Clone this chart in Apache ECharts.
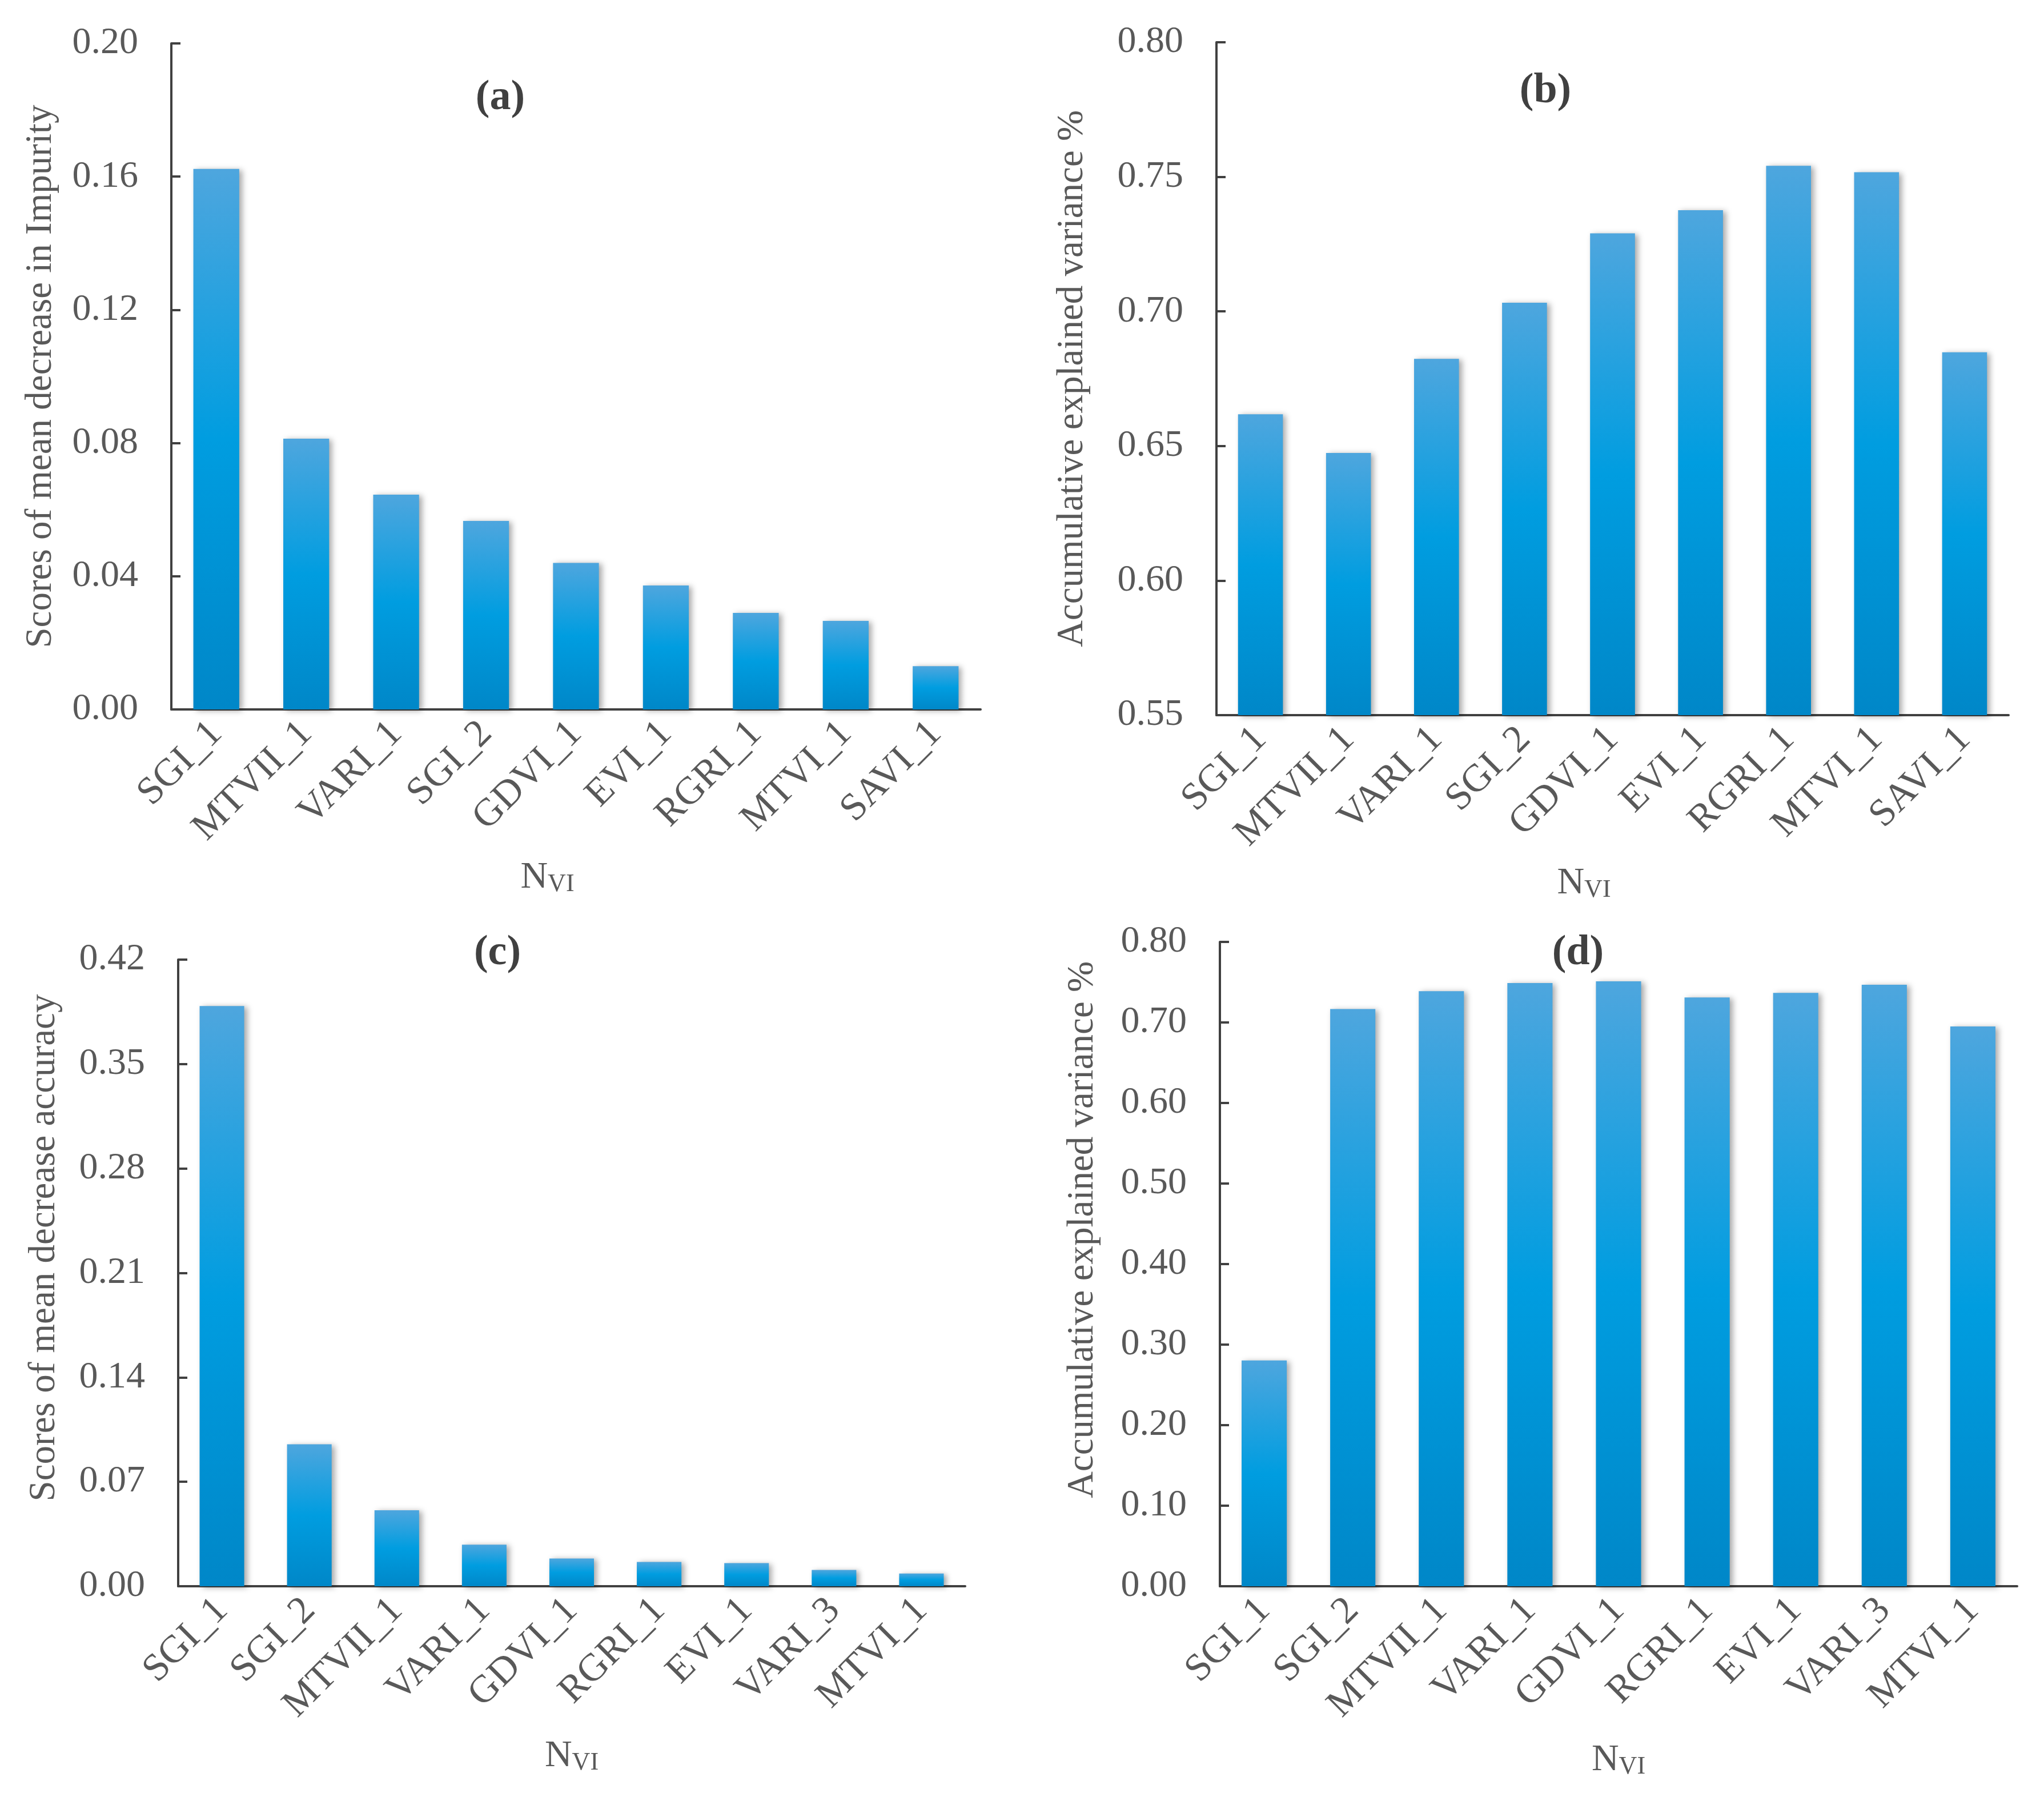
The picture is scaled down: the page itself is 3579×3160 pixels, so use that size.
<!DOCTYPE html>
<html>
<head>
<meta charset="utf-8">
<script src="https://cdn.jsdelivr.net/npm/echarts@6/dist/echarts.min.js"></script>
<style>
html,body{margin:0;padding:0;background:#fff;}
#chart{width:3579px;height:3160px;}
</style>
</head>
<body>
<div id="chart"></div>
<script>
// ---- data ----
const catsA = ['SGI_1','MTVII_1','VARI_1','SGI_2','GDVI_1','EVI_1','RGRI_1','MTVI_1','SAVI_1'];
const valsA = [0.1623,0.0813,0.0645,0.0566,0.0440,0.0372,0.0290,0.0266,0.0130];
const catsB = ['SGI_1','MTVII_1','VARI_1','SGI_2','GDVI_1','EVI_1','RGRI_1','MTVI_1','SAVI_1'];
const valsB = [0.6618,0.6474,0.6824,0.7032,0.7290,0.7376,0.7541,0.7517,0.6848];
const catsC = ['SGI_1','SGI_2','MTVII_1','VARI_1','GDVI_1','RGRI_1','EVI_1','VARI_3','MTVI_1'];
const valsC = [0.3889,0.0951,0.0509,0.0279,0.0186,0.0163,0.0155,0.0109,0.0085];
const catsD = ['SGI_1','SGI_2','MTVII_1','VARI_1','GDVI_1','RGRI_1','EVI_1','VARI_3','MTVI_1'];
const valsD = [0.2803,0.7166,0.7389,0.7490,0.7511,0.7310,0.7367,0.7468,0.6951];
const panelTitles = ['(a)','(b)','(c)','(d)'];
const yNames = ['Scores of mean decrease in Impurity','Accumulative explained variance %','Scores of mean decrease accuracy','Accumulative explained variance %'];
const yMin = [0, 0.55, 0, 0];
const yMax = [0.20, 0.80, 0.42, 0.80];
const yStep = [0.04, 0.05, 0.07, 0.10];

// ---- layout ----
const FONT = "'Liberation Serif','Times New Roman',serif";
const grids = [
  {left:300, top:76, width:1417, height:1166},
  {left:2130, top:74, width:1387, height:1178},
  {left:312, top:1680, width:1378, height:1097},
  {left:2136, top:1649, width:1396, height:1128}
];
const yNameGap = [196, 220, 202, 208];
const yNamePad = [[0,0,0,0],[0,0,0,0],[0,0,0,88],[0,0,0,120]];
const xNameGap = [232, 232, 265, 272];
const xNamePad = [[0,100,0,0],[0,100,0,0],[0,0,0,0],[0,0,0,0]];
const titlePos = [[876,172],[2706,160],[871,1669],[2763,1669]];
const cats = [catsA, catsB, catsC, catsD];
const vals = [valsA, valsB, valsC, valsD];

const axisColor = '#404040';
const textColor = '#595959';

const barColor = {
  type:'linear', x:0, y:0, x2:0, y2:1,
  colorStops:[
    {offset:0, color:'#4ea6de'},
    {offset:0.5, color:'#009de0'},
    {offset:1, color:'#0087c8'}
  ]
};

const option = {
  backgroundColor:'#ffffff',
  animation:false,
  textStyle:{fontFamily:FONT},
  grid: grids.map(g => Object.assign({containLabel:false}, g)),
  graphic: panelTitles.map((t,i) => ({
    type:'text', x:titlePos[i][0], y:titlePos[i][1],
    style:{text:t, font:'bold 74px ' + FONT, fill:axisColor, textAlign:'center', textVerticalAlign:'middle'}
  })),
  xAxis: cats.map((c,i) => ({
    type:'category', gridIndex:i, data:c,
    axisLine:{lineStyle:{color:axisColor, width:4}},
    axisTick:{show:false},
    axisLabel:{rotate:45, margin:32, color:textColor, fontSize:68, fontFamily:FONT, interval:0, padding:[124,0,0,0]},
    name:'{n|N}{s|VI}', nameLocation:'middle', nameGap:xNameGap[i],
    nameTextStyle:{
      padding:xNamePad[i],
      rich:{
        n:{fontSize:66, fontFamily:FONT, color:textColor, verticalAlign:'top', lineHeight:66},
        s:{fontSize:44, fontFamily:FONT, color:textColor, verticalAlign:'bottom', lineHeight:44, padding:[38,0,0,0]}
      }
    },
    splitLine:{show:false}
  })),
  yAxis: yNames.map((n,i) => ({
    type:'value', gridIndex:i, min:yMin[i], max:yMax[i], interval:yStep[i],
    axisLine:{show:true, lineStyle:{color:axisColor, width:4}},
    axisTick:{show:true, inside:true, length:16, lineStyle:{color:axisColor, width:4}},
    axisLabel:{color:textColor, fontSize:66, fontFamily:FONT, margin:58, formatter:v => v.toFixed(2)},
    splitLine:{show:false},
    name:n, nameLocation:'middle', nameGap:yNameGap[i],
    nameTextStyle:{color:textColor, fontSize:65, fontFamily:FONT, padding:yNamePad[i]}
  })),
  series: vals.map((v,i) => ({
    type:'bar', xAxisIndex:i, yAxisIndex:i, data:v, barWidth:'51%',
    itemStyle:{color:barColor, shadowBlur:10, shadowColor:'rgba(0,0,0,0.35)', shadowOffsetX:5, shadowOffsetY:2}
  }))
};

const chart = echarts.init(document.getElementById('chart'), null, {renderer:'canvas'});
chart.setOption(option);
</script>
</body>
</html>
